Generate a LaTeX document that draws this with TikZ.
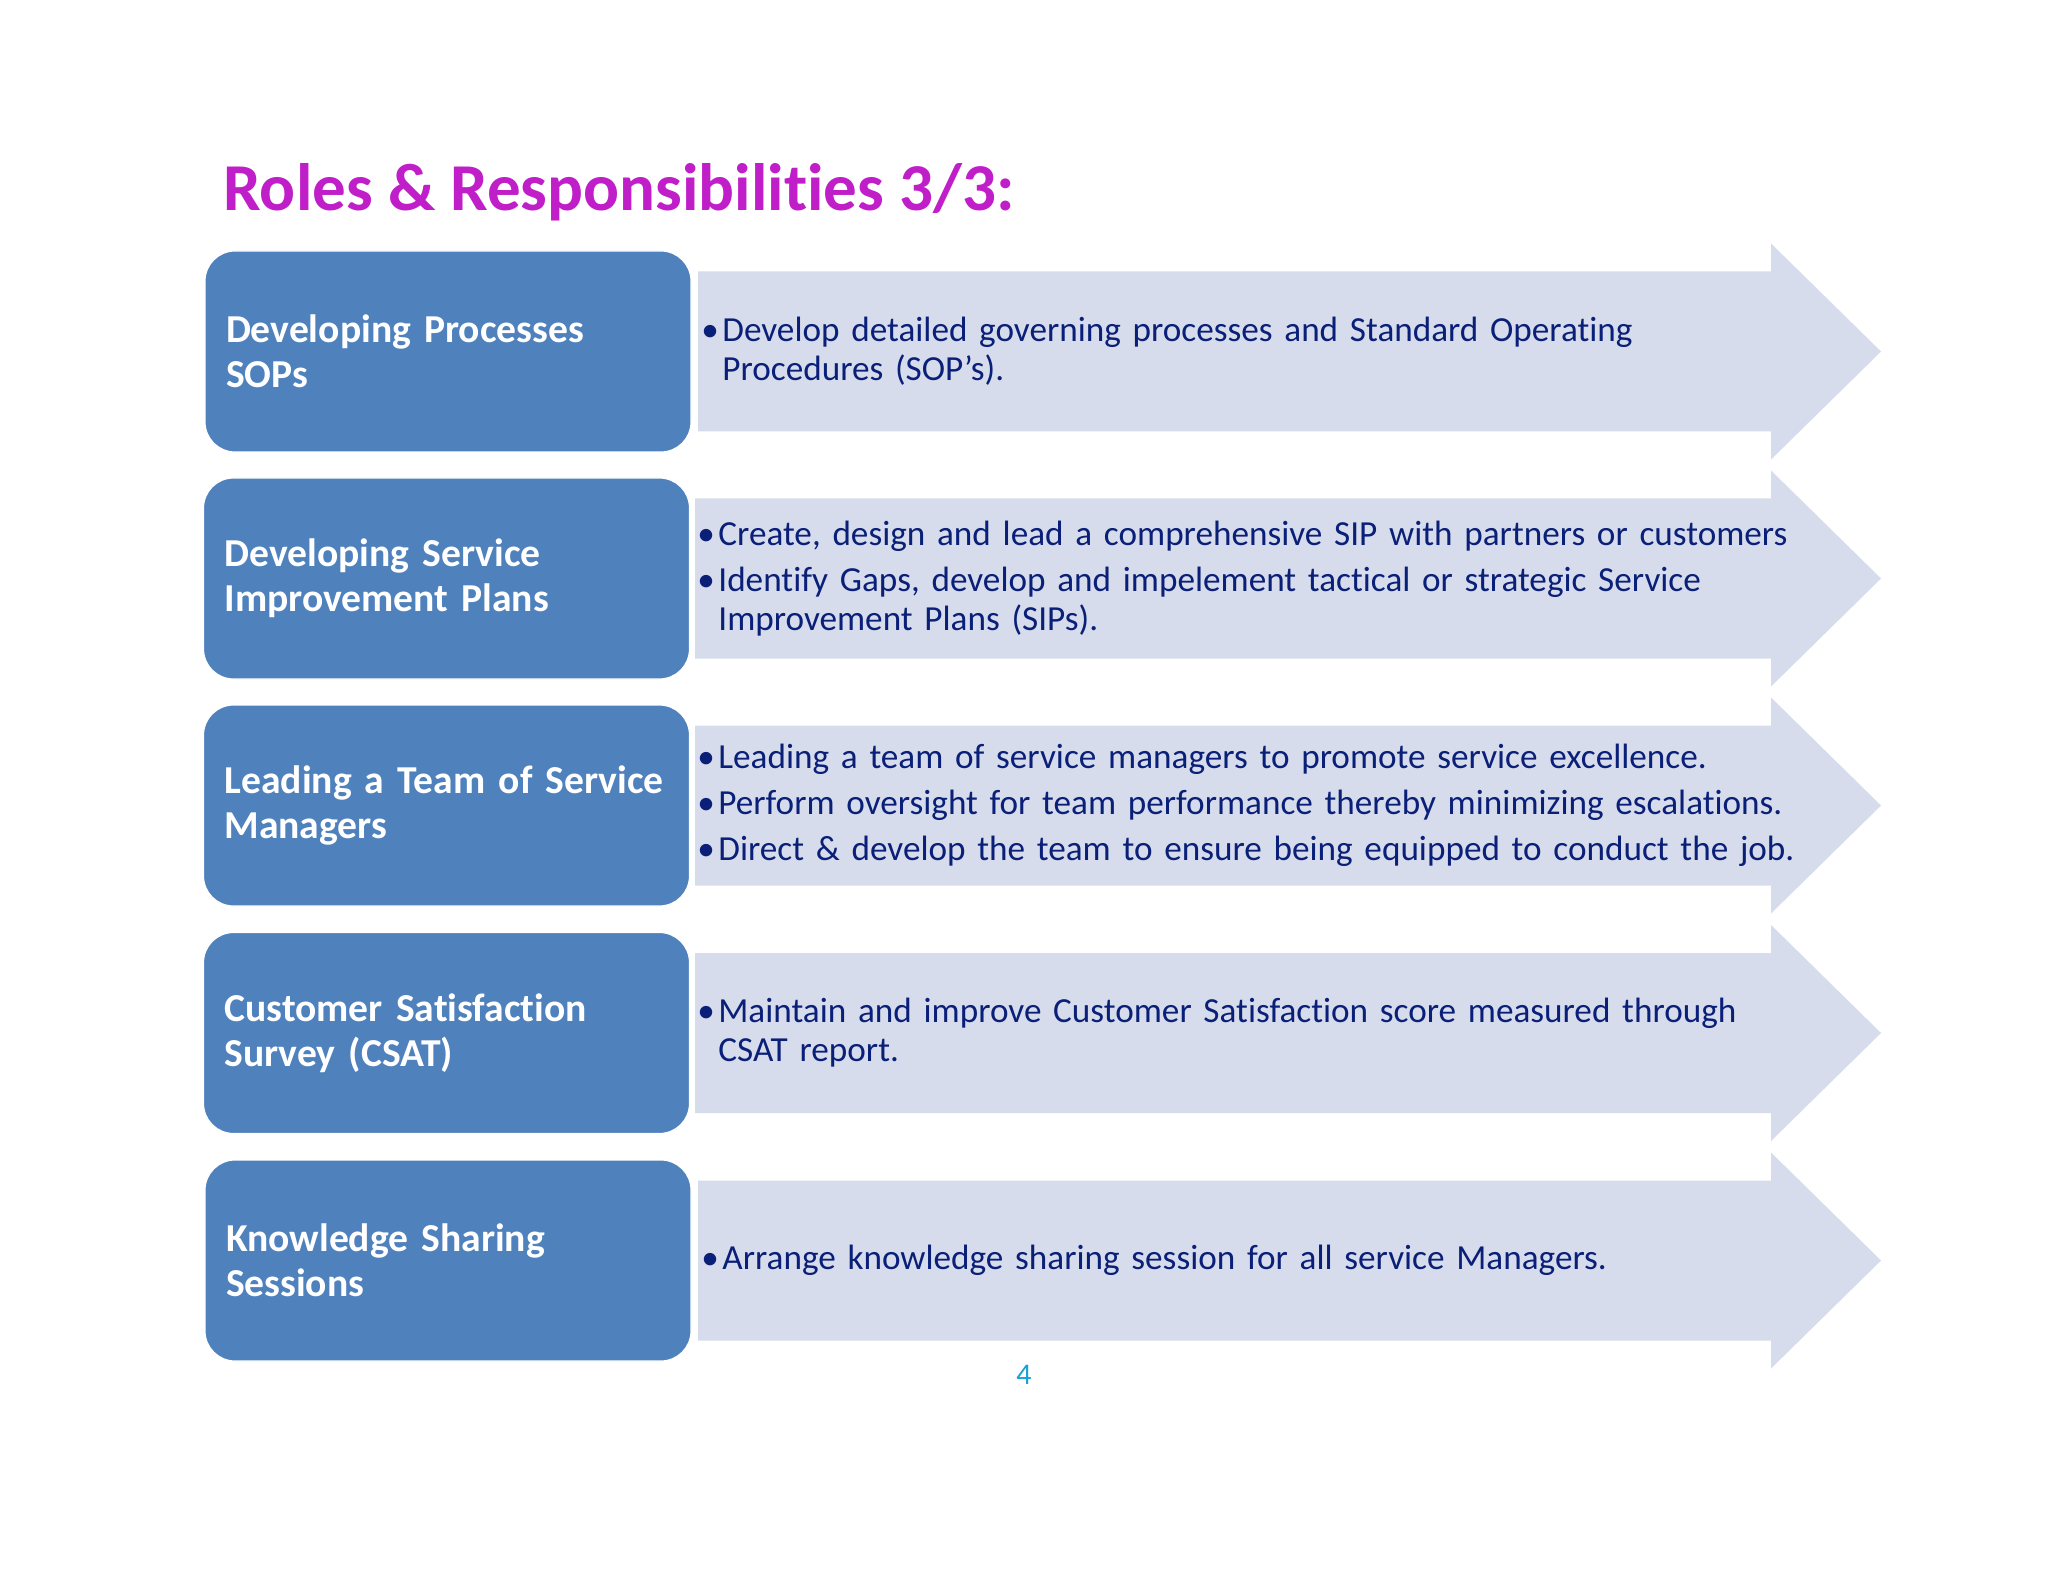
\documentclass[tikz,border=0pt]{standalone}
\usepackage{fontspec}
\setmainfont{Carlito}[Ligatures=CommonOff]
\definecolor{boxblue}{HTML}{4F81BD}
\definecolor{arrowfill}{HTML}{D6DCEB}
\definecolor{navy}{HTML}{0A1F78}
\definecolor{titlemag}{HTML}{C01EC8}
\definecolor{pagenum}{HTML}{1BA1D6}
\newcommand\bitem[1]{\hangindent=10.5pt\hangafter=1\noindent\makebox[10.5pt][l]{•}#1\par}
\tikzset{
  rolebox/.style={rectangle, rounded corners=15pt, fill=boxblue, draw=white, line width=0.6pt,
    minimum width=243pt, minimum height=100.5pt, text width=222pt, inner xsep=10.5pt,
    align=left, text=white, font=\fontsize{19.8}{22.5}\selectfont\bfseries},
  desc/.style={anchor=west, inner sep=0pt, text width=620pt, align=left, text=navy,
    font=\fontsize{17.6}{19.5}\selectfont},
}
\begin{document}
\begin{tikzpicture}[x=0.5pt,y=-0.5pt]
\useasboundingbox (0,0) rectangle (2048,1582);
\fill[white] (0,0) rectangle (2048,1582);

\node[anchor=base west, inner sep=0pt, text=titlemag, font=\fontsize{33.5}{40}\selectfont\bfseries]
  (title) at (223,211) {Roles \& Responsibilities 3/3:};

% arrows
\foreach \c/\s in {351.5/698, 578.5/695, 805.5/695, 1033/695, 1260.5/698}{
  \fill[arrowfill] (\s,\c-80) -- (1771,\c-80) -- (1771,\c-108) -- (1881,\c)
     -- (1771,\c+108) -- (1771,\c+80) -- (\s,\c+80) -- cycle;
}

% row 1
\node[rolebox] (b1) at (448,351.5) {Developing Processes\\SOPs};
\node[desc] (d1) at (701,351.5) {\bitem{Develop detailed governing processes and Standard Operating\newline Procedures (SOP’s).}};

% row 2
\node[rolebox] (b2) at (446.5,578.5) {Developing Service\\Improvement Plans};
\node[desc] (d2) at (697,578.5) {\bitem{Create, design and lead a comprehensive SIP with partners or customers}\vspace{3.5pt}\bitem{Identify Gaps, develop and impelement tactical or strategic Service\newline Improvement Plans (SIPs).}};

% row 3
\node[rolebox] (b3) at (446.5,805.5) {Leading a Team of Service\\Managers};
\node[desc] (d3) at (697,805.5) {\bitem{Leading a team of service managers to promote service excellence.}\vspace{3.5pt}\bitem{Perform oversight for team performance thereby minimizing escalations.}\vspace{3.5pt}\bitem{Direct \& develop the team to ensure being equipped to conduct the job.}};

% row 4
\node[rolebox] (b4) at (446.5,1033) {Customer Satisfaction\\Survey (CSAT)};
\node[desc] (d4) at (697,1033) {\bitem{Maintain and improve Customer Satisfaction score measured through\newline CSAT report.}};

% row 5
\node[rolebox] (b5) at (448,1260.5) {Knowledge Sharing\\Sessions};
\node[desc] (d5) at (701,1260.5) {\bitem{Arrange knowledge sharing session for all service Managers.}};

\node[text=pagenum, font=\fontsize{15}{18}\selectfont, inner sep=0pt] (pg) at (1024,1375) {4};
\end{tikzpicture}
\end{document}
